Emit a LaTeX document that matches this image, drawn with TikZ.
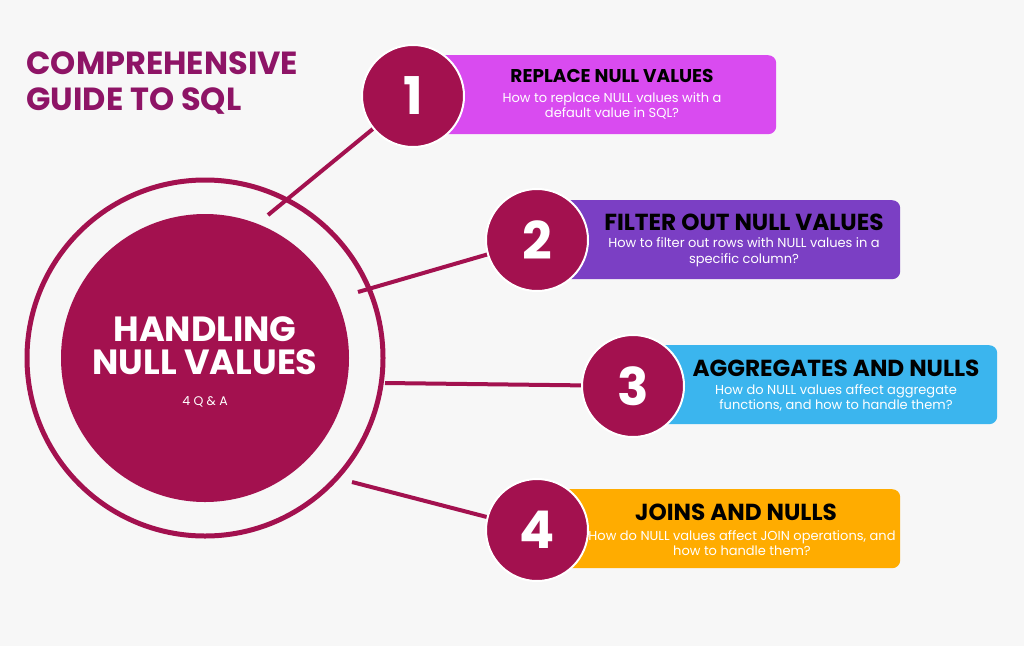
\documentclass[tikz,border=0pt]{standalone}
\usepackage{fontspec}
\setmainfont{Poppins}
\definecolor{maroon}{HTML}{A3114F}
\definecolor{titlec}{HTML}{8E1466}
\definecolor{bgc}{HTML}{F7F7F7}
\definecolor{c1}{HTML}{D94BF0}
\definecolor{c2}{HTML}{7B3FC4}
\definecolor{c3}{HTML}{3BB5EE}
\definecolor{c4}{HTML}{FFAC00}
\begin{document}
\begin{tikzpicture}[x=1pt,y=-1pt,
  num/.style={circle,fill=maroon,draw=white,line width=2pt,minimum size=102pt,text=white,font=\fontsize{52}{52}\selectfont\bfseries,inner sep=0},
  card/.style={rounded corners=8pt,minimum width=346pt,minimum height=79pt,inner sep=0},
  conn/.style={maroon,line width=4pt},
  hd/.style={text=black},
  sub/.style={font=\fontsize{13}{15.5}\selectfont,text=white,align=center}]
\fill[bgc] (0,0) rectangle (1024,646);
\node[anchor=north west,align=left,text=titlec,font=\fontsize{32}{36}\selectfont\bfseries] (title) at (23,48) {COMPREHENSIVE\\GUIDE TO SQL};
% cards
\node[card,fill=c1,anchor=north west] (b1) at (430,55) {};
\node[card,fill=c2,anchor=north west,minimum width=345pt] (b2) at (555,200) {};
\node[card,fill=c3,anchor=north west,minimum width=347pt] (b3) at (650,345) {};
\node[card,fill=c4,anchor=north west,minimum width=345pt] (b4) at (555,489) {};
\node[hd,font=\fontsize{18.5}{20}\selectfont\bfseries] (h1) at (612,76) {REPLACE NULL VALUES};
\node[sub] (s1) at (612,106) {How to replace NULL values with a\\default value in SQL?};
\node[hd,font=\fontsize{23.2}{25}\selectfont\bfseries] (h2) at (744,222) {FILTER OUT NULL VALUES};
\node[sub] (s2) at (744,252) {How to filter out rows with NULL values in a\\specific column?};
\node[hd,font=\fontsize{23.2}{25}\selectfont\bfseries] (h3) at (836,368) {AGGREGATES AND NULLS};
\node[sub] (s3) at (836,398) {How do NULL values affect aggregate\\functions, and how to handle them?};
\node[hd,font=\fontsize{23.2}{25}\selectfont\bfseries] (h4) at (736,512) {JOINS AND NULLS};
\node[sub] (s4) at (742,543) {How do NULL values affect JOIN operations, and\\how to handle them?};
% big circle
\node[circle,draw=maroon,line width=5pt,minimum size=356pt] (ring) at (205,358) {};
\node[circle,fill=maroon,minimum size=288pt] (main) at (205,358) {};
\node[text=white,align=center,font=\fontsize{35}{33}\selectfont\bfseries] (mt) at (205,346) {HANDLING\\NULL VALUES};
\node[text=white,font=\fontsize{12.5}{14}\selectfont] (ms) at (205,402) {4 Q \& A};
\coordinate (p1) at (268,215);
\coordinate (p2) at (358,292);
\coordinate (p3) at (385,383);
\coordinate (p4) at (352,482);
\coordinate (q1) at (413,96);
\coordinate (q2) at (537,240);
\coordinate (q3) at (633,386);
\coordinate (q4) at (537,530);
\draw[conn] (p1) -- (q1);
\draw[conn] (p2) -- (q2);
\draw[conn] (p3) -- (q3);
\draw[conn] (p4) -- (q4);
\node[num] (n1) at (q1) {1};
\node[num] (n2) at (q2) {2};
\node[num] (n3) at (q3) {3};
\node[num] (n4) at (q4) {4};
\end{tikzpicture}
\end{document}
